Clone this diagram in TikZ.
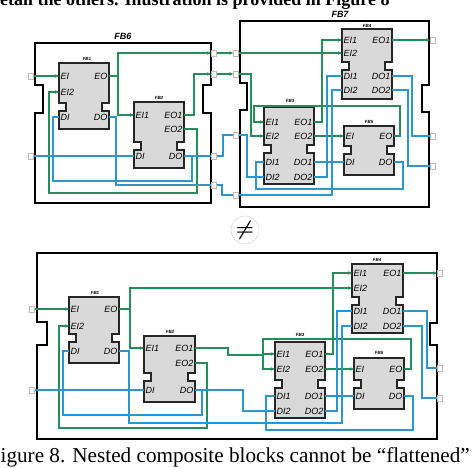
\documentclass[tikz,border=0pt]{standalone}
\usepackage{fontspec}
\usepackage{bm}
\setmainfont{Liberation Serif}
\setsansfont{Liberation Sans}
\usetikzlibrary{arrows.meta}

\definecolor{sigg}{RGB}{38,140,92}
\definecolor{sigb}{RGB}{45,150,205}
\definecolor{portc}{RGB}{200,182,182}

\tikzset{
  fbox/.style={draw=black!85, line width=1.1pt, fill=gray!30},
  cbox/.style={draw=black, line width=2.4pt, fill=white},
  eline/.style={draw=sigg, line width=1.1pt, -{Stealth[length=4pt,width=3.5pt]}},
  dline/.style={draw=sigb, line width=1.1pt},
  inlbl/.style={font=\sffamily\itshape\fontsize{9}{9}\selectfont, inner sep=1.5pt, anchor=west},
  outlbl/.style={font=\sffamily\itshape\fontsize{9}{9}\selectfont, inner sep=1.5pt, anchor=east},
  fbname/.style={font=\sffamily\bfseries\itshape\fontsize{4.5}{5}\selectfont, inner sep=0pt},
  cname/.style={font=\sffamily\bfseries\itshape\fontsize{9}{9}\selectfont, inner sep=0pt},
  psq/.style={draw=portc, line width=0.6pt, minimum width=5pt, minimum height=6pt, inner sep=0pt}
}

\begin{document}
\begin{tikzpicture}[x=1pt,y=-1pt]
\useasboundingbox (0,0) rectangle (474,468);
\clip (0,0) rectangle (474,468);

% text of the page
\node[anchor=base west, inner sep=0pt, font=\bfseries\fontsize{18}{18}\selectfont] (head) at (0,6) {etail the others. Illustration is provided in Figure 8};
\node[anchor=base east, inner sep=0pt, font=\fontsize{21.2}{21.2}\selectfont] (cap) at (470,462) {Figure 8. Nested composite blocks cannot be “flattened”};

% composite blocks
\draw[cbox] (35,43) -- (211,43) -- (211,85) -- (203,85) -- (203,113) -- (211,113) -- (211,203) -- (35,203) -- (35,113) -- (43,113) -- (43,85) -- (35,85) -- cycle;
\draw[cbox] (240,21) -- (429,21) -- (429,85) -- (422,85) -- (422,112) -- (429,112) -- (429,207) -- (240,207) -- (240,110) -- (247,110) -- (247,83) -- (240,83) -- cycle;
\draw[cbox] (37,253) -- (437,253) -- (437,323) -- (430,323) -- (430,345) -- (437,345) -- (437,439) -- (37,439) -- (37,345) -- (47,345) -- (47,322) -- (37,322) -- cycle;
\node[cname] (fb6) at (123,36) {FB6};
\node[cname] (fb7) at (340,14) {FB7};

% top: FB1
\draw[fbox] (59,63) -- (109,63) -- (109,103) -- (102,103) -- (102,111) -- (109,111) -- (109,129) -- (59,129) -- (59,111) -- (66,111) -- (66,103) -- (59,103) -- cycle;
\node[fbname] (t1) at (87,59) {FB1};
\node[inlbl] (t1ei) at (59,76) {EI};
\node[inlbl] (t1ei2) at (59,92) {EI2};
\node[inlbl] (t1di) at (59,117) {DI};
\node[outlbl] (t1eo) at (109,76) {EO};
\node[outlbl] (t1do) at (109,117) {DO};
% top: FB2
\draw[fbox] (134,102) -- (184,102) -- (184,142) -- (177,142) -- (177,150) -- (184,150) -- (184,168) -- (134,168) -- (134,150) -- (141,150) -- (141,142) -- (134,142) -- cycle;
\node[fbname] (t2) at (159,98) {FB2};
\node[inlbl] (t2ei1) at (134,115) {EI1};
\node[inlbl] (t2di) at (134,156) {DI};
\node[outlbl] (t2eo1) at (184,115) {EO1};
\node[outlbl] (t2eo2) at (184,129) {EO2};
\node[outlbl] (t2do) at (184,156) {DO};
% top: FB3
\draw[fbox] (264,107) -- (314,107) -- (314,145) -- (307,145) -- (307,153) -- (314,153) -- (314,184) -- (264,184) -- (264,153) -- (271,153) -- (271,145) -- (264,145) -- cycle;
\node[fbname] (t3) at (290,101) {FB3};
\node[inlbl] (t3ei1) at (264,122) {EI1};
\node[inlbl] (t3ei2) at (264,136) {EI2};
\node[inlbl] (t3di1) at (264,162) {DI1};
\node[inlbl] (t3di2) at (264,177) {DI2};
\node[outlbl] (t3eo1) at (314,122) {EO1};
\node[outlbl] (t3eo2) at (314,136) {EO2};
\node[outlbl] (t3do1) at (314,162) {DO1};
\node[outlbl] (t3do2) at (314,177) {DO2};
% top: FB4
\draw[fbox] (342,29) -- (392,29) -- (392,62) -- (385,62) -- (385,70) -- (392,70) -- (392,99) -- (342,99) -- (342,70) -- (349,70) -- (349,62) -- (342,62) -- cycle;
\node[fbname] (t4) at (367,26) {FB4};
\node[inlbl] (t4ei1) at (342,40) {EI1};
\node[inlbl] (t4ei2) at (342,53) {EI2};
\node[inlbl] (t4di1) at (342,76) {DI1};
\node[inlbl] (t4di2) at (342,90) {DI2};
\node[outlbl] (t4eo1) at (392,40) {EO1};
\node[outlbl] (t4do1) at (392,76) {DO1};
\node[outlbl] (t4do2) at (392,90) {DO2};
% top: FB5
\draw[fbox] (344,126) -- (394,126) -- (394,146) -- (387,146) -- (387,154) -- (394,154) -- (394,175) -- (344,175) -- (344,154) -- (351,154) -- (351,146) -- (344,146) -- cycle;
\node[fbname] (t5) at (369,122) {FB5};
\node[inlbl] (t5ei) at (344,136) {EI};
\node[inlbl] (t5di) at (344,162) {DI};
\node[outlbl] (t5eo) at (394,136) {EO};
\node[outlbl] (t5do) at (394,162) {DO};

% top: ports
\node[psq] (p6a) at (31,76) {};
\node[psq] (p6b) at (31,156) {};
\node[psq] (p6c) at (214,53) {};
\node[psq] (p6d) at (214,74) {};
\node[psq] (p6e) at (214,156) {};
\node[psq] (p6f) at (214,185) {};
\node[psq] (p7a) at (236,53) {};
\node[psq] (p7b) at (236,74) {};
\node[psq] (p7c) at (236,135) {};
\node[psq] (p7d) at (236,195) {};
\node[psq] (p7e) at (433,40) {};
\node[psq] (p7f) at (433,136) {};
\node[psq] (p7g) at (433,166) {};

% top: FB6 wiring
\draw[eline] (p6a) -- (t1ei);
\draw[eline] (t1eo.east) -- ++(9,0) |- (p6c);
\draw[eline] (t1eo.east) -- ++(9,0) |- (t2ei1);
\draw[eline] (t2eo1.east) -- ++(10,0) |- (p6d);
\draw[eline] (t2eo2.east) -- ++(13,0) |- (49,193) |- (t1ei2);
\draw[dline] (p6b) -- (t2di);
\draw[dline] (t1do.east) -- ++(7,0) |- (p6f);
\draw[dline] (t2do.east) -- (p6e);
\draw[dline] (t2do.east) -- ++(8,0) |- (53,181) |- (t1di);
% top: FB6 to FB7
\draw[eline] (p6c) -- (p7a);
\draw[eline] (p6d) -- (p7b);
\draw[dline] (p6e) -- ++(9,0) |- (p7c);
\draw[dline] (p6f) -- ++(8,0) |- (p7d);
% top: FB7 wiring
\draw[eline] (p7a) -- (t4ei2);
\draw[eline] (p7b) -- ++(15,0) |- (t3ei2);
\draw[eline] (t5eo.east) -- ++(6,0) |- (254,106) |- (t3ei1);
\draw[eline] (t3eo1.east) -- ++(8,0) |- (t4ei1);
\draw[eline] (t3eo2) -- (t5ei);
\draw[eline] (t4eo1) -- (p7e);
\draw[dline] (p7c) -- ++(11,0) |- (t3di2);
\draw[dline] (t5do.east) -- ++(9,0) |- (256,189) |- (t3di1);
\draw[dline] (t3do2.east) -- ++(13,0) |- (t4di1);
\draw[dline] (p7d) -- (332,195) |- (t4di2);
\draw[dline] (t3do1) -- (t5di);
\draw[dline] (t4do1.east) -- ++(20,0) |- (p7f);
\draw[dline] (t4do2.east) -- ++(16,0) |- (p7g);

% not equal
\node[circle, draw=gray!30, line width=0.6pt, minimum size=28pt, inner sep=0pt, font=\fontsize{20}{20}\selectfont] (neq) at (245,230) {$\bm{\neq}$};

% bottom: FB1
\draw[fbox] (69,297) -- (119,297) -- (119,334) -- (112,334) -- (112,342) -- (119,342) -- (119,363) -- (69,363) -- (69,342) -- (76,342) -- (76,334) -- (69,334) -- cycle;
\node[fbname] (b1) at (95,293) {FB1};
\node[inlbl] (b1ei) at (69,309) {EI};
\node[inlbl] (b1ei2) at (69,326) {EI2};
\node[inlbl] (b1di) at (69,351) {DI};
\node[outlbl] (b1eo) at (119,309) {EO};
\node[outlbl] (b1do) at (119,351) {DO};
% bottom: FB2
\draw[fbox] (144,336) -- (195,336) -- (195,373) -- (188,373) -- (188,381) -- (195,381) -- (195,402) -- (144,402) -- (144,381) -- (151,381) -- (151,373) -- (144,373) -- cycle;
\node[fbname] (b2) at (170,332) {FB2};
\node[inlbl] (b2ei1) at (144,348) {EI1};
\node[inlbl] (b2di) at (144,390) {DI};
\node[outlbl] (b2eo1) at (195,348) {EO1};
\node[outlbl] (b2eo2) at (195,363) {EO2};
\node[outlbl] (b2do) at (195,390) {DO};
% bottom: FB3
\draw[fbox] (275,342) -- (325,342) -- (325,380) -- (318,380) -- (318,388) -- (325,388) -- (325,418) -- (275,418) -- (275,388) -- (282,388) -- (282,380) -- (275,380) -- cycle;
\node[fbname] (b3) at (300,335) {FB3};
\node[inlbl] (b3ei1) at (275,354) {EI1};
\node[inlbl] (b3ei2) at (275,369) {EI2};
\node[inlbl] (b3di1) at (275,396) {DI1};
\node[inlbl] (b3di2) at (275,411) {DI2};
\node[outlbl] (b3eo1) at (325,354) {EO1};
\node[outlbl] (b3eo2) at (325,369) {EO2};
\node[outlbl] (b3do1) at (325,396) {DO1};
\node[outlbl] (b3do2) at (325,411) {DO2};
% bottom: FB4
\draw[fbox] (352,264) -- (403,264) -- (403,297) -- (396,297) -- (396,305) -- (403,305) -- (403,333) -- (352,333) -- (352,305) -- (359,305) -- (359,297) -- (352,297) -- cycle;
\node[fbname] (b4) at (377,260) {FB4};
\node[inlbl] (b4ei1) at (352,273) {EI1};
\node[inlbl] (b4ei2) at (352,288) {EI2};
\node[inlbl] (b4di1) at (352,311) {DI1};
\node[inlbl] (b4di2) at (352,326) {DI2};
\node[outlbl] (b4eo1) at (403,273) {EO1};
\node[outlbl] (b4do1) at (403,311) {DO1};
\node[outlbl] (b4do2) at (403,326) {DO2};
% bottom: FB5
\draw[fbox] (354,358) -- (404,358) -- (404,380) -- (397,380) -- (397,388) -- (404,388) -- (404,409) -- (354,409) -- (354,388) -- (361,388) -- (361,380) -- (354,380) -- cycle;
\node[fbname] (b5) at (379,353) {FB5};
\node[inlbl] (b5ei) at (354,369) {EI};
\node[inlbl] (b5di) at (354,396) {DI};
\node[outlbl] (b5eo) at (404,369) {EO};
\node[outlbl] (b5do) at (404,396) {DO};

% bottom: ports
\node[psq] (q1) at (32,309) {};
\node[psq] (q2) at (32,390) {};
\node[psq] (q3) at (440,273) {};
\node[psq] (q4) at (440,368) {};
\node[psq] (q5) at (440,398) {};

% bottom: wiring
\draw[eline] (q1) -- (b1ei);
\draw[eline] (b1eo.east) -- ++(11,0) |- (b4ei2);
\draw[eline] (b1eo.east) -- ++(11,0) |- (b2ei1);
\draw[eline] (b2eo1.east) -- (228,348) |- (263,355) |- (b3ei2);
\draw[eline] (b5eo.east) -- ++(7,0) |- (263,339) |- (b3ei1);
\draw[eline] (b3eo1.east) -- ++(8,0) |- (b4ei1);
\draw[eline] (b3eo2) -- (b5ei);
\draw[eline] (b4eo1) -- (q3);
\draw[eline] (b2eo2.east) -- ++(12,0) |- (59,428) |- (b1ei2);
\draw[dline] (q2) -- (b2di);
\draw[dline] (b2do.east) -- (243,390) |- (b3di2);
\draw[dline] (b2do.east) -- ++(7,0) |- (63,415) |- (b1di);
\draw[dline] (b1do.east) -- ++(10,0) |- (342,423) |- (b4di2);
\draw[dline] (b3do2.east) -- ++(12,0) |- (b4di1);
\draw[dline] (b3do1) -- (b5di);
\draw[dline] (b5do.east) -- ++(9,0) |- (266,430) |- (b3di1);
\draw[dline] (b4do1.east) -- ++(24,0) |- (q4);
\draw[dline] (b4do2.east) -- ++(19,0) |- (q5);
\end{tikzpicture}
\end{document}
